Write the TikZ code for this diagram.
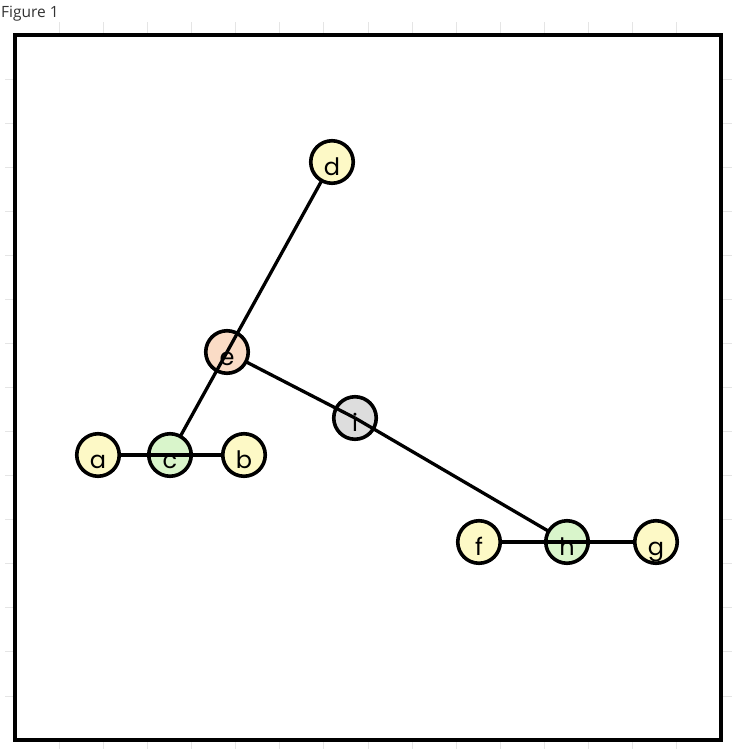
\documentclass[tikz,border=0pt]{standalone}
\usepackage{fontspec}
\setmainfont{Poppins}
\newfontfamily\captionfont{Open Sans}
\definecolor{leafyellow}{HTML}{FDF9C6}
\definecolor{jointgreen}{HTML}{D9F5CB}
\definecolor{hubpeach}{HTML}{FADCC6}
\definecolor{hubgray}{HTML}{DDDDDD}
\definecolor{captiongray}{HTML}{333333}
\pgfdeclarelayer{layer1}
\pgfdeclarelayer{layer2}
\pgfdeclarelayer{layer3}
\pgfdeclarelayer{layer4}
\pgfdeclarelayer{layer5}
\pgfdeclarelayer{layer6}
\pgfdeclarelayer{layer7}
\pgfdeclarelayer{top}
\pgfsetlayers{layer1,layer2,layer3,layer4,layer5,layer6,layer7,main,top}
\begin{document}
\begin{tikzpicture}[x=1pt,y=-1pt,
    vertex/.style={circle,draw,line width=3.6pt,minimum size=42.5pt,inner sep=0pt,
      text height=27pt,text depth=0pt,font=\fontsize{24}{24}\selectfont},
    leaf/.style={vertex,fill=leafyellow},
    joint/.style={vertex,fill=jointgreen},
    link/.style={line width=3.3pt},
    tick/.style={black!10,line width=0.8pt}]
  \useasboundingbox (0,0) rectangle (732,749);
  \node[anchor=base west,inner sep=0pt,text=captiongray,
    font=\captionfont\fontsize{15.5}{15.5}\selectfont] (caption) at (1,18) {Figure 1};
  \foreach \k in {1,...,15} {
    \draw[tick] (15+\k*44.125,22) -- (15+\k*44.125,35);
    \draw[tick] (15+\k*44.125,740) -- (15+\k*44.125,749);
    \draw[tick] (5,35+\k*44.0625) -- (15,35+\k*44.0625);
    \draw[tick] (721,35+\k*44.0625) -- (732,35+\k*44.0625);
  }
  \draw[line width=4pt] (15,35) rectangle (721,740);

  \begin{pgfonlayer}{layer1}
    \node[vertex,fill=hubgray] (i) at (355,418) {i};
  \end{pgfonlayer}
  \begin{pgfonlayer}{layer3}
    \node[vertex,fill=hubpeach] (e) at (227,352) {e};
  \end{pgfonlayer}
  \begin{pgfonlayer}{layer5}
    \node[joint] (c) at (170,455) {c};
  \end{pgfonlayer}
  \begin{pgfonlayer}{layer7}
    \node[joint] (h) at (567,542) {h};
  \end{pgfonlayer}
  \begin{pgfonlayer}{top}
    \node[leaf] (a) at (98,455) {a};
    \node[leaf] (b) at (244,455) {b};
    \node[leaf] (d) at (332,162) {d};
    \node[leaf] (f) at (479,542) {f};
    \node[leaf] (g) at (656,542) {g};
  \end{pgfonlayer}

  \begin{pgfonlayer}{layer2}
    \draw[link] (e.center) -- (i.center);
  \end{pgfonlayer}
  \begin{pgfonlayer}{layer4}
    \draw[link] (d.center) -- (e.center);
    \draw[link] (e.center) -- (c.center);
  \end{pgfonlayer}
  \begin{pgfonlayer}{layer6}
    \draw[link] (a.center) -- (c.center);
    \draw[link] (c.center) -- (b.center);
    \draw[link] (i.center) -- (h.center);
  \end{pgfonlayer}
  \draw[link] (f.center) -- (h.center);
  \draw[link] (h.center) -- (g.center);
\end{tikzpicture}
\end{document}
